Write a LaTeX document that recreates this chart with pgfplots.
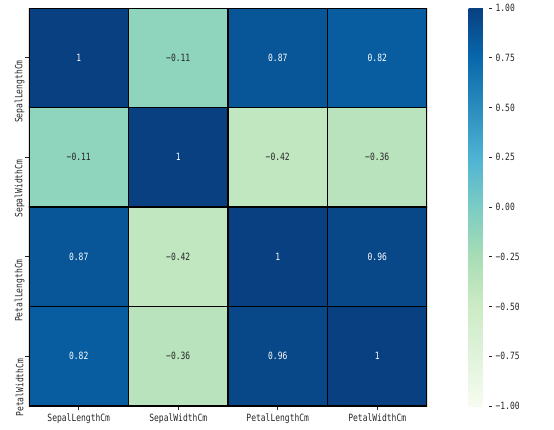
\documentclass[border=0pt]{standalone}
\usepackage{pgfplots}
\pgfplotsset{compat=1.18}
\usepackage{fontspec}
\setmainfont{DejaVu Sans Mono}[FakeStretch=0.8]

\definecolor{ticktext}{HTML}{262626}

\pgfplotsset{
  colormap={gnbu}{rgb255=(247,252,240) rgb255=(224,243,219) rgb255=(204,235,197)
    rgb255=(168,221,181) rgb255=(123,204,196) rgb255=(78,179,211)
    rgb255=(43,140,190) rgb255=(8,104,172) rgb255=(8,64,129)},
}

% correlation matrix, x = column, y = row
\pgfplotstableread{
x y c
0 0 1
1 0 -0.11
2 0 0.87
3 0 0.82
0 1 -0.11
1 1 1
2 1 -0.42
3 1 -0.36
0 2 0.87
1 2 -0.42
2 2 1
3 2 0.96
0 3 0.82
1 3 -0.36
2 3 0.96
3 3 1
}\corrtable

% annotations on dark cells
\pgfplotstableread{
x y l
0 0 1
2 0 0.87
3 0 0.82
1 1 1
0 2 0.87
2 2 1
3 2 0.96
0 3 0.82
2 3 0.96
3 3 1
}\darkcells

% annotations on light cells
\pgfplotstableread{
x y l
1 0 −0.11
0 1 −0.11
2 1 −0.42
3 1 −0.36
1 2 −0.42
1 3 −0.36
}\lightcells

\newcommand{\lblfont}{\fontsize{10}{12}\selectfont}

\begin{document}
\begin{tikzpicture}
\path[use as bounding box] (-29pt,-23pt) rectangle (525pt,406pt);
\begin{axis}[
  at={(0,0)}, anchor=south west,
  width=398pt, height=398pt, scale only axis,
  xmin=-0.5, xmax=3.5, ymin=-0.5, ymax=3.5,
  y dir=reverse,
  axis line style={draw=none},
  xtick={0,1,2,3}, ytick={0,1,2,3},
  xticklabels={SepalLengthCm,SepalWidthCm,PetalLengthCm,PetalWidthCm},
  yticklabels={SepalLengthCm,SepalWidthCm,PetalLengthCm,PetalWidthCm},
  tick align=outside, xtick pos=bottom, ytick pos=left,
  major tick length=3.5pt,
  tick style={ticktext, line width=0.6pt},
  ticklabel style={font=\lblfont, text=ticktext},
  yticklabel style={rotate=90, anchor=east, yshift=6pt, xshift=1pt},
  xticklabel style={yshift=-1pt},
  colormap name=gnbu,
  point meta min=-1, point meta max=1,
  colorbar,
  colorbar style={
    at={(parent axis.north east)}, anchor=north west, xshift=33pt,
    width=20pt, height=398pt, scale only axis,
    axis line style={draw=none},
    ytick={-1,-0.75,-0.5,-0.25,0,0.25,0.5,0.75,1},
    yticklabels={−1.00,−0.75,−0.50,−0.25,0.00,0.25,0.50,0.75,1.00},
    ytick pos=right, tick align=outside, major tick length=3.5pt,
    tick style={ticktext, line width=0.6pt},
    yticklabel style={font=\lblfont, text=ticktext},
  },
]
\addplot[matrix plot*, mesh/cols=4, point meta=explicit, draw=black, line width=1.4pt]
  table[x=x, y=y, meta=c] {\corrtable};
\addplot[only marks, mark=none, nodes near coords, point meta=explicit symbolic,
  every node near coord/.append style={anchor=center, text=white, font=\lblfont}]
  table[x=x, y=y, meta=l] {\darkcells};
\addplot[only marks, mark=none, nodes near coords, point meta=explicit symbolic,
  every node near coord/.append style={anchor=center, text=ticktext, font=\lblfont}]
  table[x=x, y=y, meta=l] {\lightcells};
\end{axis}
\end{tikzpicture}
\end{document}
